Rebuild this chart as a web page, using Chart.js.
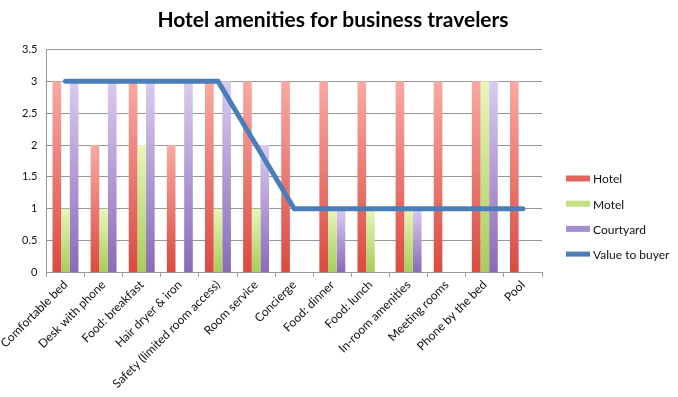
<!DOCTYPE html>
<html><head><meta charset="utf-8">
<script src="https://cdn.jsdelivr.net/npm/chart.js@4"></script>
<style>html,body{margin:0;padding:0;background:#fff}#wrap{width:678px;height:397px}</style>
</head><body><div id="wrap"><canvas id="c" width="678" height="397"></canvas></div>
<script>
const categories = ["Comfortable bed","Desk with phone","Food: breakfast","Hair dryer & iron","Safety (limited room access)","Room service","Concierge","Food: dinner","Food: lunch","In-room amenities","Meeting rooms","Phone by the bed","Pool"];
const hotel = [3,2,3,2,3,3,3,3,3,3,3,3,3];
const motel = [1,1,2,0,1,1,0,1,1,1,0,3,0];
const courtyard = [3,3,3,3,3,2,0,1,0,1,0,3,0];
const valueToBuyer = [3,3,3,3,3,2,1,1,1,1,1,1,1];
const yMin = 0, yMax = 3.5, yStep = 0.5;

const FONT = "Lato, 'Open Sans', sans-serif";

function grad(top, bottom){
  return (ctx) => {
    const chart = ctx.chart;
    if (!chart.chartArea || ctx.type !== 'data' || !chart.scales.y) return bottom;
    const v = ctx.raw || 0;
    const y0 = chart.scales.y.getPixelForValue(0);
    const y1 = chart.scales.y.getPixelForValue(v);
    if (!isFinite(y0) || !isFinite(y1) || Math.abs(y0 - y1) < 1) return bottom;
    const g = chart.ctx.createLinearGradient(0, y1, 0, y0);
    g.addColorStop(0, top);
    g.addColorStop(1, bottom);
    return g;
  };
}

const legendColors = ['#e4635b', '#c4e07f', '#a48ed2', '#4a7ebb'];

// Custom right-side legend drawn from the dataset labels
const sideLegend = {
  id: 'sideLegend',
  afterDraw(chart) {
    const ctx = chart.ctx;
    const order = [1, 2, 3, 0];
    const x0 = chart.chartArea.right + 24;
    const yStart = 178.5, gap = 25.2;
    ctx.save();
    ctx.font = "12px " + FONT;
    ctx.textBaseline = 'middle';
    ctx.textAlign = 'left';
    order.forEach((di, i) => {
      const y = yStart + i * gap;
      ctx.fillStyle = legendColors[i];
      const h = di === 0 ? 5 : 6;
      ctx.fillRect(x0, y - h / 2, 24, h);
      ctx.fillStyle = '#111';
      ctx.fillText(chart.data.datasets[di].label, x0 + 27, y + 1);
    });
    ctx.restore();
  }
};

new Chart(document.getElementById('c'), {
  data: {
    labels: categories,
    datasets: [
      { type: 'line', label: 'Value to buyer', data: valueToBuyer, borderColor: '#4a7ebb', backgroundColor: '#4a7ebb',
        borderWidth: 5, pointRadius: 0, tension: 0, order: 0, borderCapStyle: 'round', borderJoinStyle: 'miter' },
      { type: 'bar', label: 'Hotel', data: hotel, backgroundColor: grad('#f9a9a3', '#da4a41'), borderWidth: 0, order: 1,
        categoryPercentage: 0.68, barPercentage: 1.0 },
      { type: 'bar', label: 'Motel', data: motel, backgroundColor: grad('#e8f6bb', '#a6cd58'), borderWidth: 0, order: 1,
        categoryPercentage: 0.68, barPercentage: 1.0 },
      { type: 'bar', label: 'Courtyard', data: courtyard, backgroundColor: grad('#dacbf0', '#8a6ab8'), borderWidth: 0, order: 1,
        categoryPercentage: 0.68, barPercentage: 1.0 }
    ]
  },
  options: {
    responsive: false,
    animation: false,
    layout: { padding: { left: 13, right: 25, top: 1, bottom: 5 } },
    plugins: {
      title: { display: true, text: 'Hotel amenities for business travelers', color: '#000', align: 'center',
        font: { family: FONT, size: 21, weight: 'bold' }, padding: { top: 7, bottom: 16 } },
      tooltip: { enabled: false },
      legend: { display: false }
    },
    scales: {
      x: {
        grid: { display: true, offset: true, drawOnChartArea: false, drawTicks: true, tickLength: 4, color: '#999' },
        border: { display: true, color: '#999' },
        ticks: { autoSkip: false, maxRotation: 45, minRotation: 45, color: '#111', padding: 1,
          font: { family: FONT, size: 12 } }
      },
      y: {
        min: yMin, max: yMax,
        grid: { color: '#999', drawTicks: false },
        border: { display: true, color: '#999' },
        ticks: { stepSize: yStep, color: '#111', padding: 9, font: { family: FONT, size: 11 },
          callback: (v) => String(v) }
      },
      legendSpace: {
        type: 'linear', position: 'right', display: true,
        grid: { display: false }, border: { display: false }, ticks: { display: false },
        afterFit: (s) => { s.width = 111; }
      }
    }
  },
  plugins: [sideLegend]
});
</script>
</body></html>
